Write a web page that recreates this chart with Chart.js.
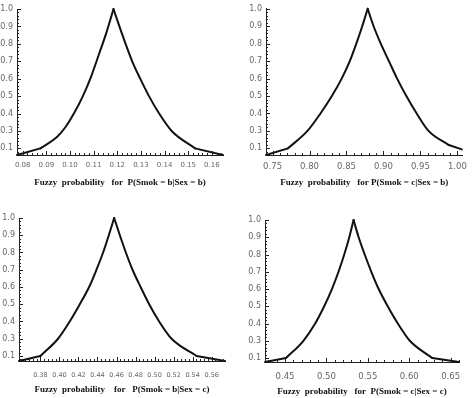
<!DOCTYPE html>
<html>
<head>
<meta charset="utf-8">
<script src="https://cdn.jsdelivr.net/npm/chart.js@4.4.1/dist/chart.umd.min.js"></script>
<style>
body { margin: 0; background: #fff; width: 474px; height: 398px; overflow: hidden; position: relative; }
.panel { position: absolute; }
</style>
</head>
<body>
<div class="panel" style="left:0;top:0"><canvas id="c1" width="237" height="198"></canvas></div>
<div class="panel" style="left:237px;top:0"><canvas id="c2" width="237" height="198"></canvas></div>
<div class="panel" style="left:0;top:199px"><canvas id="c3" width="237" height="199"></canvas></div>
<div class="panel" style="left:237px;top:199px"><canvas id="c4" width="237" height="199"></canvas></div>
<script>
// y ticks as printed on the figure (the lowest tick is labelled 0.1)
const yTickValues = [0.2, 0.3, 0.4, 0.5, 0.6, 0.7, 0.8, 0.9, 1.0]
const yTickLabels = ['0.1', '0.3', '0.4', '0.5', '0.6', '0.7', '0.8', '0.9', '1.0']

// P(Smok = b | Sex = b)
const bbX = [0.0776, 0.0875, 0.0946, 0.0982, 0.1017, 0.1053, 0.1089, 0.1124, 0.1153, 0.1184,
	0.1209, 0.1235, 0.1263, 0.1297, 0.1334, 0.1377, 0.1430, 0.1529, 0.1647]
const bbY = [0.162, 0.2, 0.267, 0.324, 0.401, 0.496, 0.611, 0.746, 0.86, 1.0,
	0.9, 0.8, 0.7, 0.6, 0.5, 0.4, 0.3, 0.2, 0.162]
const bbTicks = ['0.08', '0.09', '0.10', '0.11', '0.12', '0.13', '0.14', '0.15', '0.16']

// P(Smok = c | Sex = b)
const cbX = [0.7411, 0.7708, 0.7972, 0.8148, 0.8302, 0.8435, 0.8545, 0.8633, 0.8713, 0.8787,
	0.8867, 0.8964, 0.9074, 0.9185, 0.9310, 0.9450, 0.9610, 0.9885, 1.0060]
const cbY = [0.162, 0.2, 0.3, 0.4, 0.5, 0.6, 0.7, 0.8, 0.9, 1.0,
	0.9, 0.8, 0.7, 0.6, 0.5, 0.4, 0.3, 0.219, 0.194]
const cbTicks = ['0.75', '0.80', '0.85', '0.90', '0.95', '1.00']

// P(Smok = b | Sex = c)
const bcX = [0.3575, 0.3800, 0.3985, 0.4108, 0.4214, 0.4312, 0.4389, 0.4459, 0.4519, 0.4575,
	0.4635, 0.4698, 0.4768, 0.4853, 0.4943, 0.5048, 0.5179, 0.5442, 0.5740]
const bcY = [0.171, 0.2, 0.3, 0.4, 0.5, 0.6, 0.7, 0.8, 0.9, 1.0, 0.9, 0.8, 0.7, 0.6, 0.5, 0.4, 0.3, 0.2, 0.171]
const bcTicks = ['0.38', '0.40', '0.42', '0.44', '0.46', '0.48', '0.50', '0.52', '0.54', '0.56']

// P(Smok = c | Sex = c)
const ccX = [0.4258, 0.4512, 0.4722, 0.4864, 0.4973, 0.5066, 0.5146, 0.5215, 0.5276, 0.5328,
	0.5389, 0.5462, 0.5542, 0.5631, 0.5740, 0.5862, 0.6007, 0.6278, 0.6601]
const ccY = [0.177, 0.2, 0.3, 0.4, 0.5, 0.6, 0.7, 0.8, 0.9, 1.0, 0.9, 0.8, 0.7, 0.6, 0.5, 0.4, 0.3, 0.2, 0.177]
const ccTicks = ['0.45', '0.50', '0.55', '0.60', '0.65']

// small inward ticks like the original axes
const axisTicks = {
	id: 'axisTicks',
	afterDraw(chart, args, opts) {
		const c = chart.ctx
		const xs = chart.scales.x
		const ys = chart.scales.y
		const a = chart.chartArea
		c.save()
		c.strokeStyle = '#222'
		c.lineWidth = 1
		c.beginPath()
		const mark = (v, len, horiz) => {
			if (horiz) {
				const px = Math.round(xs.getPixelForValue(v)) + 0.5
				c.moveTo(px, a.bottom)
				c.lineTo(px, a.bottom - len)
			} else {
				const py = Math.round(ys.getPixelForValue(v)) + 0.5
				c.moveTo(a.left, py)
				c.lineTo(a.left + len, py)
			}
		}
		for (let v = Math.ceil(xs.min / opts.xMinor) * opts.xMinor; v <= xs.max; v += opts.xMinor) mark(v, 2, true)
		xs.ticks.forEach(t => mark(t.value, 4, true))
		for (let v = Math.ceil(ys.min / 0.02) * 0.02; v <= ys.max + 1e-9; v += 0.02) mark(v, 2, false)
		ys.ticks.forEach(t => mark(t.value, 4, false))
		c.stroke()
		c.restore()
	},
}

function curve(pts, smooth) {
	return {
		data: pts,
		borderColor: '#111',
		borderWidth: 2,
		borderCapStyle: 'round',
		borderJoinStyle: 'round',
		pointRadius: 0,
		tension: 0,
		cubicInterpolationMode: smooth ? 'monotone' : 'default',
		fill: false,
		clip: false,
	}
}

function panel(id, xs, ys, ticks, p) {
	const pts = xs.map((x, i) => ({ x: x, y: ys[i] }))
	const k = ys.indexOf(1.0)
	// smooth part of each branch is everything from the 0.2 level up; tails stay straight
	let lo = 0
	while (ys[lo] < 0.2) lo++
	let hi = ys.length - 1
	while (ys[hi] < 0.2) hi--
	const sets = [
		curve(pts.slice(lo, k + 1), true),
		curve(pts.slice(k, hi + 1), true),
	]
	if (lo > 0) sets.push(curve(pts.slice(0, lo + 1), false))
	if (hi < pts.length - 1) sets.push(curve(pts.slice(hi), false))
	return new Chart(document.getElementById(id), {
		type: 'line',
		data: { datasets: sets },
		options: {
			responsive: false,
			animation: false,
			events: [],
			layout: { padding: { top: p.top, right: p.right, left: 0, bottom: 0 } },
			plugins: {
				legend: { display: false },
				tooltip: { enabled: false },
				axisTicks: { xMinor: p.minor },
			},
			scales: {
				x: {
					type: 'linear',
					min: xs[0],
					max: p.xmax,
					afterFit: s => { s.height = p.hx },
					afterBuildTicks: s => { s.ticks = ticks.map(t => ({ value: parseFloat(t) })) },
					grid: { display: false, drawTicks: false, tickLength: 0 },
					border: { display: true, color: '#222', width: 1 },
					ticks: {
						autoSkip: false,
						maxRotation: 0,
						padding: p.tpad,
						color: '#666',
						font: { family: 'DejaVu Sans', size: p.fx },
						callback: (v, i) => ticks[i],
					},
					title: {
						display: true,
						text: p.title,
						color: '#111',
						font: { family: 'Liberation Serif', weight: 'bold', size: 9 },
						padding: { top: 0, bottom: p.tb },
					},
				},
				y: {
					type: 'linear',
					min: ys[0],
					max: 1.0,
					afterFit: s => { s.width = p.wy },
					afterBuildTicks: s => { s.ticks = yTickValues.map(v => ({ value: v })) },
					grid: { display: false, drawTicks: false, tickLength: 0 },
					border: { display: true, color: '#222', width: 1 },
					ticks: {
						autoSkip: false,
						padding: 4,
						color: '#666',
						font: { family: 'DejaVu Sans', size: 8 },
						callback: (v, i) => yTickLabels[i],
					},
				},
			},
		},
		plugins: [axisTicks],
	})
}

panel('c1', bbX, bbY, bbTicks, { top: 9, right: 14, wy: 17, hx: 43, xmax: 0.1647, minor: 0.002, fx: 7, tpad: 6, tb: 10,
	title: 'Fuzzy  probability   for  P(Smok = b|Sex = b)' })
panel('c2', cbX, cbY, cbTicks, { top: 5, right: 7, wy: 29, hx: 43, xmax: 1.007, minor: 0.01, fx: 8.5, tpad: 7, tb: 10,
	title: 'Fuzzy  probability   for P(Smok = c|Sex = b)' })
panel('c3', bcX, bcY, bcTicks, { top: 19, right: 12, wy: 19, hx: 37, xmax: 0.574, minor: 0.004, fx: 6.5, tpad: 10, tb: 3,
	title: 'Fuzzy  probability    for   P(Smok = b|Sex = c)' })
panel('c4', ccX, ccY, ccTicks, { top: 21, right: 15, wy: 28, hx: 36, xmax: 0.6601, minor: 0.01, fx: 8.5, tpad: 10, tb: 1,
	title: 'Fuzzy  probability   for  P(Smok = c|Sex = c)' })
</script>
</body>
</html>
